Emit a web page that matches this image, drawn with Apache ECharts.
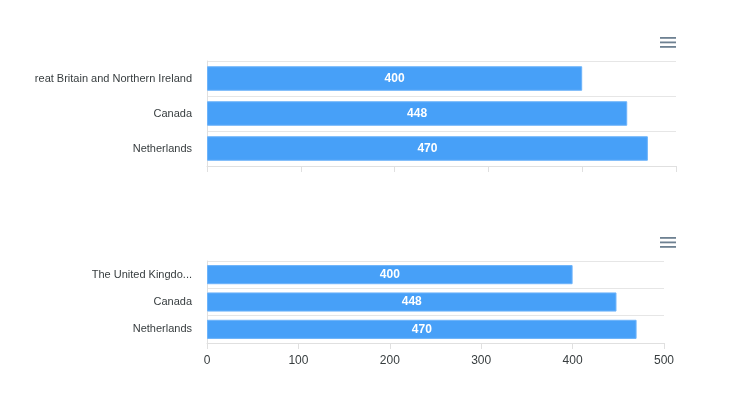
<!DOCTYPE html>
<html>
<head>
<meta charset="utf-8">
<script src="https://cdn.jsdelivr.net/npm/echarts@6/dist/echarts.min.js"></script>
<style>
html,body{margin:0;padding:0;background:#fff;}
#c{width:742px;height:418px;}
</style>
</head>
<body>
<div id="c"></div>
<script>
var categories = ['The United Kingdom of Great Britain and Northern Ireland', 'Canada', 'Netherlands'];
var values = [400, 448, 470];
var xTicks = [0, 100, 200, 300, 400, 500];

var chart = echarts.init(document.getElementById('c'));
var FONT = '"Liberation Sans", Arial, Helvetica, sans-serif';
var gridColor = '#e6e6e6';
var axisColor = '#e0e0e0';
var labelColor = '#373d3f';

function truncate(s) {
  return s.length > 20 ? s.slice(0, 17) + '...' : s;
}

function yAxisCfg(idx, trunc) {
  return {
    type: 'category',
    gridIndex: idx,
    data: categories,
    inverse: true,
    axisLine: { show: true, lineStyle: { color: axisColor } },
    axisTick: { show: false },
    splitLine: { show: true, lineStyle: { color: gridColor } },
    axisLabel: {
      color: labelColor, fontFamily: FONT, fontSize: 11, margin: 15,
      padding: [0, 0, 5, 0],
      formatter: trunc ? truncate : function (s) { return s; }
    }
  };
}

function xAxisCfg(idx, showLabels) {
  return {
    type: 'value',
    gridIndex: idx,
    min: xTicks[0],
    max: xTicks[xTicks.length - 1],
    interval: xTicks[1] - xTicks[0],
    axisLine: { show: true, lineStyle: { color: axisColor } },
    axisTick: { show: true, length: 6, lineStyle: { color: axisColor } },
    splitLine: { show: false },
    axisLabel: { show: showLabels, color: labelColor, fontFamily: FONT, fontSize: 12, margin: 12 }
  };
}

function seriesCfg(idx) {
  return {
    type: 'bar',
    xAxisIndex: idx,
    yAxisIndex: idx,
    data: values,
    barCategoryGap: '30%',
    itemStyle: { color: '#47a0f8', borderColor: '#6db3fa', borderWidth: 1 },
    label: {
      show: true, position: 'inside', color: '#fff', fontWeight: 'bold',
      fontSize: 12, fontFamily: FONT
    },
    silent: true
  };
}

function menuIcon(top) {
  var children = [];
  for (var i = 0; i < 3; i++) {
    children.push({ type: 'rect', shape: { x: 0, y: i * 4.5, width: 16, height: 1.8 }, style: { fill: '#6e8192' } });
  }
  return { type: 'group', left: 660, top: top, children: children };
}

chart.setOption({
  animation: false,
  grid: [
    { left: 207, right: 66, top: 61, height: 105, containLabel: false, outerBoundsMode: 'none' },
    { left: 207, right: 78, top: 261, height: 82, containLabel: false, outerBoundsMode: 'none' }
  ],
  xAxis: [xAxisCfg(0, false), xAxisCfg(1, true)],
  yAxis: [yAxisCfg(0, false), yAxisCfg(1, true)],
  series: [seriesCfg(0), seriesCfg(1)],
  graphic: [
    menuIcon(37), menuIcon(237),
    { type: 'rect', left: 0, top: 64, z: 100, silent: true,
      shape: { width: 34.5, height: 26 }, style: { fill: '#ffffff' } }
  ]
});
</script>
</body>
</html>
